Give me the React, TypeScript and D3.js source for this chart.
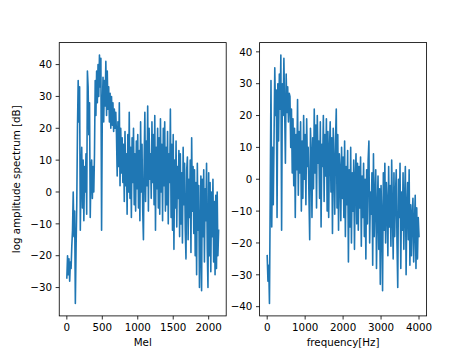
import * as d3 from 'd3';

// log amplitude spectrum sampled every 10 mel (0 .. 2140)
const melStep = 10;
const melSpectrum = [
  -27, -20, -26, -21, -28, -22, -24, -17, -12, 0,
  -14, -6, -35, -18, -4, 20, 35, 22, 33, -12,
  5, 14, -5, 10, -9, 8, 0, 12, -7, 38,
  33, 18, 28, -8, 6, 10, -2, 8, 0, 12,
  35, 24, 38, 28, 40, 30, 43, 33, 42, -12,
  25, 36, 22, 35, 27, 41, 24, 38, 26, 33,
  22, 31, 20, 30, 21, 28, 19, 26, 20, 25,
  18, 5, 22, 8, 28, 2, 20, 6, 17, 3,
  15, -3, 19, 2, 12, -7, 18, 0, 25, -2,
  14, -8, 17, 3, 20, -4, 12, -6, 16, 1,
  18, -5, 13, -9, 22, 0, 15, -6, -15, 10,
  25, -3, 16, 2, 27, -6, 20, 4, 12, -2,
  22, 3, 18, -4, 24, -12, 14, 1, 20, -5,
  17, -7, 23, 0, 15, -9, 20, 2, 22, -6,
  14, -4, 19, -10, 12, 3, 26, -8, 15, -12,
  18, -18, 10, -5, 16, -11, 8, -2, 13, -14,
  12, -10, 6, -16, 14, -4, 9, -12, -21, 7,
  11, -15, 4, -8, 10, -19, 17, -6, 8, -13,
  7, -20, 3, -26, 9, -12, 2, -30, -18, 5,
  -31, 4, -14, 7, -22, 1, -9, 9, -18, -30,
  6, -20, 3, -25, 0, -14, 4, -22, -3, -26,
  -1, -24, 0, -20, -12,
];

// log amplitude spectrum sampled every 20 Hz (0 .. 4000)
const hzStep = 20;
const hzSpectrum = [
  -24, -32, -27, -39, -5, 31, -15, 10, -8, 12,
  35, 20, 28, -12, 30, 12, 33, 22, 39, -16,
  30, 20, 38, 22, 5, 33, 21, 29, 18, 27,
  26, 10, 22, 2, 19, -2, 16, -12, 14, 3,
  25, -5, 15, 2, 18, -10, 12, -6, 20, 0,
  14, -8, 19, 4, 10, -5, -19, 16, 8, -12,
  13, -3, 22, 2, 17, -9, 20, 5, 12, -6,
  18, -15, 11, 4, 20, -7, 14, 1, 19, -10,
  15, -12, 9, 18, -4, 13, -17, 16, 5, -11,
  12, 22, -9, 14, -16, 8, 3, -13, 10, -6,
  7, -12, 12, -18, 4, -8, 9, -26, 3, -15,
  10, -20, 2, -10, 6, -22, 0, 8, -14, 5,
  -16, 4, -9, 7, -21, 1, -12, 5, -18, 0,
  -25, 3, -14, 6, 12, -20, -4, -11, 2, -27,
  8, -18, -6, 3, -28, -10, 1, -22, -3, -33,
  -2, -12, -35, 2, -16, 5, -20, -1, -8, -24,
  4, -15, -2, -21, 6, -10, -25, 2, -18, -5,
  3, -20, -34, 0, -12, 5, -28, -4, -16, 2,
  -22, -6, 4, -30, -9, -1, -19, 3, -27, -8,
  -24, -11, -6, -26, -14, -5, -28, -9, -25, -12,
  -18,
];

const leftXTicks = [0, 500, 1000, 1500, 2000];
const leftYTicks = [-30, -20, -10, 0, 10, 20, 30, 40];
const rightXTicks = [0, 1000, 2000, 3000, 4000];
const rightYTicks = [-40, -30, -20, -10, 0, 10, 20, 30, 40];

const W = 474;
const H = 355;
const FONT = 'DejaVu Sans, sans-serif';
const FS = 10.3;
const TICK = 3.6;
const PAD = 3.6;
const LINE = '#1f77b4';

const fmt = (v: number) => (v < 0 ? '\u2212' + Math.abs(v) : String(v));

interface PanelProps {
  x0: number;
  x1: number;
  step: number;
  values: number[];
  xTicks: number[];
  yTicks: number[];
  xLabel: string;
  yLabel?: string;
}

function Panel({ x0, x1, step, values, xTicks, yTicks, xLabel, yLabel }: PanelProps) {
  const top = 42.6;
  const bottom = 315.9;
  const pts = values.map((v, i) => [i * step, v] as [number, number]);

  const xExt = d3.extent(pts, (d) => d[0]) as [number, number];
  const yExt = d3.extent(pts, (d) => d[1]) as [number, number];
  const xm = (xExt[1] - xExt[0]) * 0.05;
  const ym = (yExt[1] - yExt[0]) * 0.05;

  const x = d3.scaleLinear().domain([xExt[0] - xm, xExt[1] + xm]).range([x0, x1]);
  const y = d3.scaleLinear().domain([yExt[0] - ym, yExt[1] + ym]).range([bottom, top]);

  const path = d3.line<[number, number]>()
    .x((d) => x(d[0]))
    .y((d) => y(d[1]))(pts) as string;

  return (
    <g>
      <clipPath id={`clip-${x0}`}>
        <rect x={x0} y={top} width={x1 - x0} height={bottom - top} />
      </clipPath>
      <path d={path} fill="none" stroke={LINE} strokeWidth={1.6} strokeLinejoin="round" strokeLinecap="square" clipPath={`url(#clip-${x0})`} />
      <rect x={x0} y={top} width={x1 - x0} height={bottom - top} fill="none" stroke="#000" strokeWidth={0.82} />

      {xTicks.map((t) => (
        <g key={`x${t}`}>
          <line x1={x(t)} x2={x(t)} y1={bottom} y2={bottom + TICK} stroke="#000" strokeWidth={0.82} />
          <text x={x(t)} y={bottom + TICK + PAD} dy="0.76em" textAnchor="middle" fontFamily={FONT} fontSize={FS}>
            {fmt(t)}
          </text>
        </g>
      ))}
      {yTicks.map((t) => (
        <g key={`y${t}`}>
          <line x1={x0 - TICK} x2={x0} y1={y(t)} y2={y(t)} stroke="#000" strokeWidth={0.82} />
          <text x={x0 - TICK - PAD} y={y(t)} dy="0.36em" textAnchor="end" fontFamily={FONT} fontSize={FS}>
            {fmt(t)}
          </text>
        </g>
      ))}

      <text x={(x0 + x1) / 2} y={bottom + 30} textAnchor="middle" fontFamily={FONT} fontSize={FS}>
        {xLabel}
      </text>
      {yLabel && (
        <text transform={`translate(${x0 - 39},${(top + bottom) / 2}) rotate(-90)`} textAnchor="middle" fontFamily={FONT} fontSize={FS}>
          {yLabel}
        </text>
      )}
    </g>
  );
}

export default function App() {
  return (
    <svg width={W} height={H} style={{ position: 'absolute', left: 0, top: 0, display: 'block', background: '#fff' }}>
      <Panel
        x0={59.25}
        x1={226.2}
        step={melStep}
        values={melSpectrum}
        xTicks={leftXTicks}
        yTicks={leftYTicks}
        xLabel="Mel"
        yLabel="log amplitude spectrum [dB]"
      />
      <Panel
        x0={259.6}
        x1={426.6}
        step={hzStep}
        values={hzSpectrum}
        xTicks={rightXTicks}
        yTicks={rightYTicks}
        xLabel="frequency[Hz]"
      />
    </svg>
  );
}
